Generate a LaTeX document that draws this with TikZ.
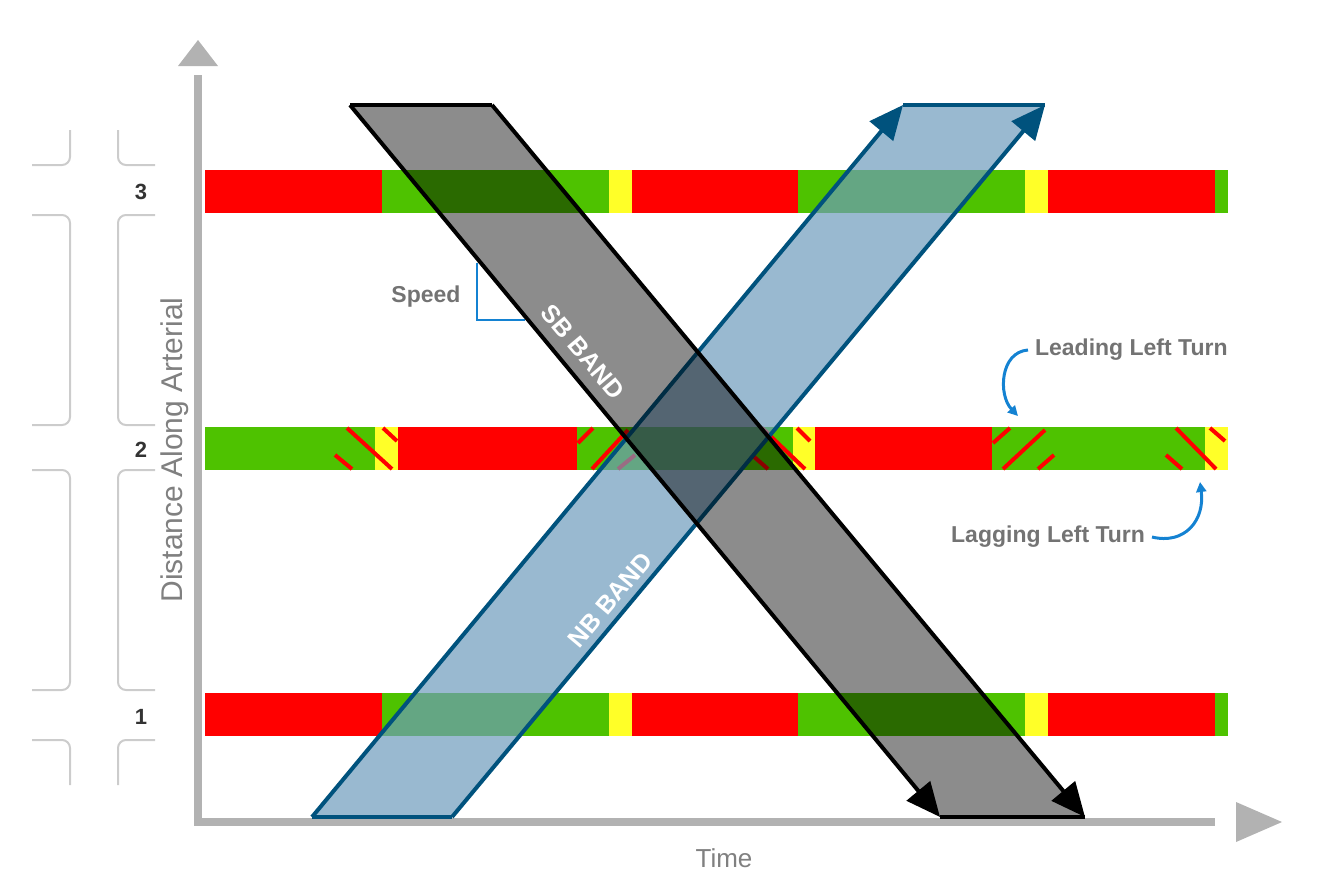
\documentclass[tikz,border=0pt]{standalone}
\usepackage{fontspec}
\setmainfont{Liberation Sans}
\usetikzlibrary{arrows.meta}
\definecolor{sigred}{RGB}{255,0,0}
\definecolor{siggreen}{RGB}{78,194,0}
\definecolor{sigyellow}{RGB}{255,255,40}
\definecolor{nbfill}{RGB}{110,155,188}
\definecolor{nbline}{RGB}{0,82,125}
\definecolor{notecol}{RGB}{20,130,210}
\tikzset{street/.style={draw=black!20,line width=1pt,rounded corners=4pt},
  hatch/.style={draw=sigred,line width=2pt},
  band label/.style={text=white,font=\bfseries\fontsize{12.5}{14}\selectfont},
  note label/.style={text=black!55,font=\bfseries\fontsize{11.5}{13}\selectfont},
  band edge/.style={line width=2pt,-{Triangle[length=17pt,width=15pt]}}}
\def\sig#1#2#3#4{\fill[#1] (#2,#4) rectangle (#3,#4+43);}

\begin{document}
\begin{tikzpicture}[x=0.5pt,y=-0.5pt]
      \useasboundingbox (0,0) rectangle (1328,885);

      %streets
      \foreach \a/\b in {215/425,470/690} {
        \draw[street] (155,\a) -- (118,\a) -- (118,\b) -- (155,\b);
        \draw[street] (32,\a) -- (70,\a) -- (70,\b) -- (32,\b);
      }
      \draw[street] (118,130) -- (118,165) -- (155,165);
      \draw[street] (70,130) -- (70,165) -- (32,165);
      \draw[street] (155,740) -- (118,740) -- (118,785);
      \draw[street] (32,740) -- (70,740) -- (70,785);

      %axes
      \draw[black!30,line width=4pt] (198,75) -- (198,822) -- (1215,822);
      \fill[black!30] (198,40) -- (218,66) -- (178,66) -- cycle;
      \fill[black!30] (1282,822) -- (1236,802) -- (1236,842) -- cycle;

      %signals 3 and 1
      \foreach \y in {170,693} {
        \sig{sigred}{205}{382}{\y} \sig{siggreen}{382}{609}{\y}
        \sig{sigyellow}{609}{632}{\y} \sig{sigred}{632}{798}{\y}
        \sig{siggreen}{798}{1025}{\y} \sig{sigyellow}{1025}{1048}{\y}
        \sig{sigred}{1048}{1215}{\y} \sig{siggreen}{1215}{1228}{\y}
      }
      %signal 2
      \sig{siggreen}{205}{375}{427} \sig{sigyellow}{375}{398}{427}
      \sig{sigred}{398}{577}{427} \sig{siggreen}{577}{793}{427}
      \sig{sigyellow}{793}{815}{427} \sig{sigred}{815}{992}{427}
      \sig{siggreen}{992}{1205}{427} \sig{sigyellow}{1205}{1228}{427}

      %left turn marks
      \draw[hatch] (347,428) -- (392,469) (335,455) -- (352,469) (383,428) -- (397,441);
      \draw[hatch] (578,443) -- (593,428) (592,469) -- (628,430) (618,469) -- (635,455);
      \draw[hatch] (762,428) -- (805,469) (752,455) -- (768,469) (797,428) -- (810,441);
      \draw[hatch] (993,443) -- (1010,428) (1003,469) -- (1045,430) (1038,469) -- (1054,455);
      \draw[hatch] (1176,428) -- (1216,469) (1166,455) -- (1182,469) (1210,428) -- (1225,441);

      %speed
      \draw[notecol,line width=1pt] (477,263) -- (477,320) -- (525,320);
      \node[note label] (speed) at (426,297) {Speed};

      %NB band
      \coordinate (nb1) at (312,817); \coordinate (nb2) at (452,817);
      \coordinate (nb3) at (1045,105); \coordinate (nb4) at (903,105);
      \fill[nbfill,fill opacity=0.7] (nb1) -- (nb2) -- (nb3) -- (nb4) -- cycle;
      \draw[nbline,line width=2pt] (nb1) -- (nb2) (nb4) -- (nb3);
      \draw[band edge,nbline] (nb1) -- (nb4);
      \draw[band edge,nbline] (nb2) -- (nb3);
      \node[band label,rotate=50] (nb) at (610,600) {NB BAND};

      %SB band
      \coordinate (sb1) at (350,105); \coordinate (sb2) at (492,105);
      \coordinate (sb3) at (1085,817); \coordinate (sb4) at (940,817);
      \fill[black,fill opacity=0.45] (sb1) -- (sb2) -- (sb3) -- (sb4) -- cycle;
      \draw[line width=2pt] (sb1) -- (sb2) (sb4) -- (sb3);
      \draw[band edge] (sb1) -- (sb4);
      \draw[band edge] (sb2) -- (sb3);
      \node[band label,rotate=-50] (sb) at (583,352) {SB BAND};

      %notes
      \node[note label,anchor=west] (lead) at (1028,350) {Leading Left Turn};
      \draw[notecol,line width=1.5pt,-{Triangle[length=5pt,width=5pt]}] (lead.west) .. controls (1000,352) and (998,395) .. (1018,416);
      \node[note label,anchor=east] (lag) at (1152,537) {Lagging Left Turn};
      \draw[notecol,line width=1.5pt,-{Triangle[length=5pt,width=5pt]}] (lag.east) .. controls (1185,545) and (1205,520) .. (1200,482);

      %axis labels
      \node[text=black!50,font=\fontsize{13}{15}\selectfont] (time) at (724,858) {Time};
      \node[text=black!50,font=\fontsize{15}{17}\selectfont,rotate=90] (dist) at (175,450) {Distance Along Arterial};
      \foreach \n/\y in {3/192,2/450,1/717} \node[text=black!80,font=\bfseries\fontsize{11}{13}\selectfont] (n\n) at (141,\y) {\n};
    \end{tikzpicture}
\end{document}
